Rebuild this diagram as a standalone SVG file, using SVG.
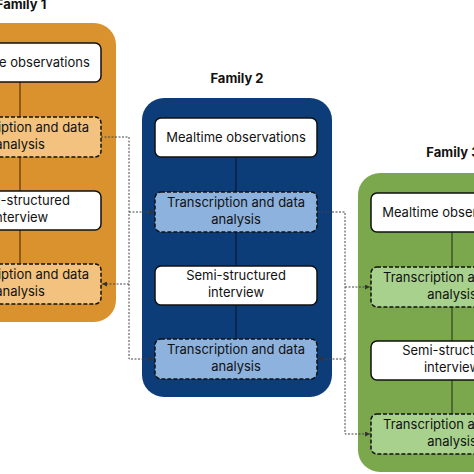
<svg xmlns="http://www.w3.org/2000/svg" width="474" height="474" viewBox="0 0 474 474">
<style>
.title{font-family:Inter,"Liberation Sans",sans-serif;font-weight:bold;font-size:13px;fill:#111;text-anchor:middle}
.lbl{font-family:Inter,"Liberation Sans",sans-serif;font-size:13px;fill:#111;text-anchor:middle}
.white{fill:#fff;stroke:#111;stroke-width:1.5}
.dash{stroke:#111;stroke-width:1.5;stroke-dasharray:4 2}
.o-panel{fill:#D9922E}
.b-panel{fill:#0D3D79}
.g-panel{fill:#7BA74D}
.o-light{fill:#F3C27E}
.b-light{fill:#8DB2DE}
.g-light{fill:#A9D18E}
.dot{fill:none;stroke:#444;stroke-width:1;stroke-dasharray:2 1.5}
</style>
<defs>
<marker id="ah" viewBox="0 0 6 6" refX="6" refY="3" markerWidth="5" markerHeight="5" markerUnits="userSpaceOnUse" orient="auto">
<path d="M0,0 L6,3 L0,6 z" fill="#333"/>
</marker>
</defs>

<!-- Family 1 -->
<g id="family1" transform="translate(-216,-75)">
<rect class="o-panel" x="142" y="98" width="190" height="299" rx="22"/>
<text class="title" x="237" y="84">Family 1</text>
<g stroke="#5a3608" stroke-width="1.2">
<line x1="236" y1="157" x2="236" y2="192"/>
<line x1="236" y1="232" x2="236" y2="266"/>
<line x1="236" y1="305" x2="236" y2="339"/>
</g>
<g id="f1-meal"><rect class="white" x="155" y="118" width="162" height="39" rx="6"/><text class="lbl" x="236" y="142">Mealtime observations</text></g>
<g id="f1-trans1"><rect class="o-light dash" x="155" y="192" width="162" height="40" rx="6"/><text class="lbl" x="236" y="207">Transcription and data</text><text class="lbl" x="236" y="224">analysis</text></g>
<g id="f1-semi"><rect class="white" x="155" y="266" width="162" height="39" rx="6"/><text class="lbl" x="236" y="280">Semi-structured</text><text class="lbl" x="236" y="297">interview</text></g>
<g id="f1-trans2"><rect class="o-light dash" x="155" y="339" width="162" height="40" rx="6"/><text class="lbl" x="236" y="354">Transcription and data</text><text class="lbl" x="236" y="371">analysis</text></g>
</g>

<!-- Family 2 -->
<g id="family2">
<rect class="b-panel" x="142" y="98" width="190" height="299" rx="22"/>
<text class="title" x="237" y="83">Family 2</text>
<g stroke="#081a33" stroke-width="1.2">
<line x1="236" y1="157" x2="236" y2="192"/>
<line x1="236" y1="232" x2="236" y2="266"/>
<line x1="236" y1="305" x2="236" y2="339"/>
</g>
<g id="f2-meal"><rect class="white" x="155" y="118" width="162" height="39" rx="6"/><text class="lbl" x="236" y="142">Mealtime observations</text></g>
<g id="f2-trans1"><rect class="b-light dash" x="155" y="192" width="162" height="40" rx="6"/><text class="lbl" x="236" y="207">Transcription and data</text><text class="lbl" x="236" y="224">analysis</text></g>
<g id="f2-semi"><rect class="white" x="155" y="266" width="162" height="39" rx="6"/><text class="lbl" x="236" y="280">Semi-structured</text><text class="lbl" x="236" y="297">interview</text></g>
<g id="f2-trans2"><rect class="b-light dash" x="155" y="339" width="162" height="40" rx="6"/><text class="lbl" x="236" y="354">Transcription and data</text><text class="lbl" x="236" y="371">analysis</text></g>
</g>

<!-- Family 3 -->
<g id="family3" transform="translate(216,75)">
<rect class="g-panel" x="142" y="98" width="190" height="299" rx="22"/>
<text class="title" x="237" y="82">Family 3</text>
<g stroke="#2c4618" stroke-width="1.2">
<line x1="236" y1="157" x2="236" y2="192"/>
<line x1="236" y1="232" x2="236" y2="266"/>
<line x1="236" y1="305" x2="236" y2="339"/>
</g>
<g id="f3-meal"><rect class="white" x="155" y="118" width="162" height="39" rx="6"/><text class="lbl" x="236" y="142">Mealtime observations</text></g>
<g id="f3-trans1"><rect class="g-light dash" x="155" y="192" width="162" height="40" rx="6"/><text class="lbl" x="236" y="207">Transcription and data</text><text class="lbl" x="236" y="224">analysis</text></g>
<g id="f3-semi"><rect class="white" x="155" y="266" width="162" height="39" rx="6"/><text class="lbl" x="236" y="280">Semi-structured</text><text class="lbl" x="236" y="297">interview</text></g>
<g id="f3-trans2"><rect class="g-light dash" x="155" y="339" width="162" height="40" rx="6"/><text class="lbl" x="236" y="354">Transcription and data</text><text class="lbl" x="236" y="371">analysis</text></g>
</g>

<!-- Cross-family connectors -->
<g id="connectors">
<path class="dot" d="M101,137 H129 V359 H154" marker-end="url(#ah)"/>
<path class="dot" d="M129,212 H154" marker-end="url(#ah)"/>
<path class="dot" d="M129,284 H102" marker-end="url(#ah)"/>
<path class="dot" d="M318,212 H345 V434 H370" marker-end="url(#ah)"/>
<path class="dot" d="M345,287 H370" marker-end="url(#ah)"/>
<path class="dot" d="M345,359 H318" marker-end="url(#ah)"/>
</g>
</svg>
